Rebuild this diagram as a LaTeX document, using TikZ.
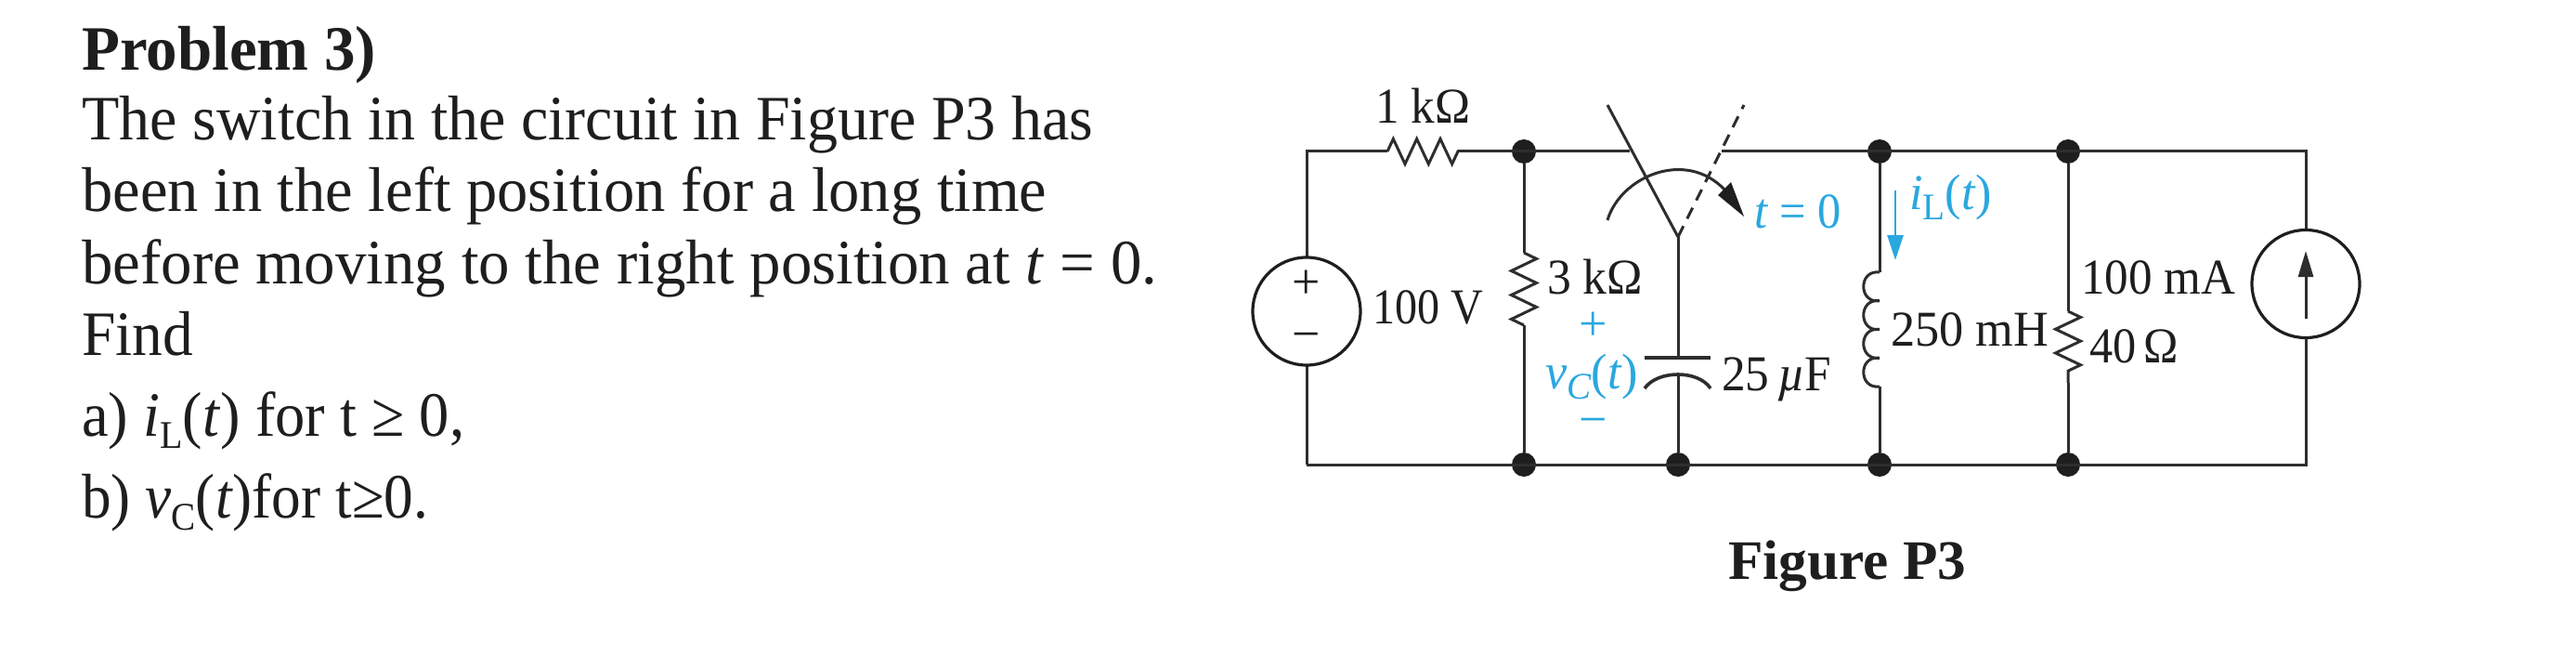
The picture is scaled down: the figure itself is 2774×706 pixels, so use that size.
\documentclass[tikz,border=0pt]{standalone}
\usepackage{fontspec}
\usepackage{graphicx}
\setmainfont{Liberation Serif}
\usetikzlibrary{arrows.meta,decorations.pathmorphing}
\newcommand{\fitw}[2]{\resizebox{#1pt}{\height}{#2}}
\newcommand{\lowidx}[1]{\raisebox{-0.2em}{\scalebox{0.62}{#1}}}
\newcommand{\lowbig}[1]{\raisebox{-0.22em}{\scalebox{0.75}{#1}}}
\definecolor{ink}{HTML}{1E1E1E}
\definecolor{wire}{HTML}{2E2E2E}
\definecolor{cyanlabel}{HTML}{2AA7DF}
\tikzset{
  body/.style={anchor=base west,inner sep=0pt,text=ink,font=\fontsize{68}{80}\selectfont},
  lab/.style={anchor=base west,inner sep=0pt,text=ink,font=\fontsize{54}{64}\selectfont},
  blab/.style={lab,text=cyanlabel},
  wireline/.style={draw=wire,line width=3pt,line join=miter},
  res/.style={wireline,decorate,decoration={zigzag,amplitude=13.5pt,segment length=#1}},
  dot/.style={circle,fill=ink,draw=none,inner sep=0pt,minimum size=26pt},
  src/.style={circle,draw=ink,line width=3.2pt,fill=white,inner sep=0pt,minimum size=116pt},
  headfill/.style={fill=ink,draw=none}
}
\begin{document}
\begin{tikzpicture}[x=1pt,y=-1pt]
\useasboundingbox[fill=white] (0,0) rectangle (2774,706);

% ---------- text block
\node[body,font=\fontsize{68}{80}\selectfont\bfseries] (title) at (88,76) {\fitw{317}{Problem 3)}};
\node[body] (l1) at (88,151) {\fitw{1089}{The switch in the circuit in Figure P3 has}};
\node[body] (l2) at (88,227) {\fitw{1039}{been in the left position for a long time}};
\node[body] (l3) at (88,305) {\fitw{1158}{before moving to the right position at \textit{t} = 0.}};
\node[body] (l4) at (88,382) {\fitw{120}{Find}};
\node[body] (l5) at (88,469) {\fitw{412}{a) \textit{i}\lowidx{L}(\textit{t}) for t ≥ 0,}};
\node[body] (l6) at (88,557) {\fitw{373}{b) \textit{v}\lowidx{C}(\textit{t})for t≥0.}};

% ---------- circuit geometry
\coordinate (tl) at (1407,163);
\coordinate (bl) at (1407,500);
\coordinate (tr) at (2483,163);
\coordinate (br) at (2483,500);
\coordinate (r1a) at (1494,163);
\coordinate (r1b) at (1570,163);
\coordinate (swl) at (1755,163);
\coordinate (swr) at (1854,163);
\coordinate (piv) at (1807,255);
\coordinate (bladeend) at (1731,113);
\coordinate (dashend) at (1878,113);
\coordinate (capt) at (1807,385);
\coordinate (capb) at (1807,404);
\coordinate (captl) at (1771,385);
\coordinate (captr) at (1842,385);
\coordinate (capbl) at (1771,418);
\coordinate (capbr) at (1842,418);
\coordinate (r3a) at (1641,272);
\coordinate (r3b) at (1641,350);
\coordinate (la) at (2024,293);
\coordinate (lb) at (2024,416);
\coordinate (r4a) at (2227,335);
\coordinate (r4b) at (2227,412);

\node[dot] (n1) at (1641,163) {};
\node[dot] (n2) at (2024,163) {};
\node[dot] (n3) at (2227,163) {};
\node[dot] (n4) at (1641,500) {};
\node[dot] (n5) at (1807,500) {};
\node[dot] (n6) at (2024,500) {};
\node[dot] (n7) at (2227,500) {};

% wires
\draw[wireline] (bl) -- (tl) -- (r1a);
\draw[wireline] (r1b) -- (n1.center) -- (swl);
\draw[wireline] (swr) -- (n2.center) -- (n3.center) -- (tr) -- (br) -- (n7.center) -- (n6.center) -- (n5.center) -- (n4.center) -- (bl);
\draw[wireline] (n1) -- (r3a);
\draw[wireline] (r3b) -- (n4);
\draw[wireline] (piv) -- (capt);
\draw[wireline] (capb) -- (n5);
\draw[wireline] (n2) -- (la);
\draw[wireline] (lb) -- (n6);
\draw[wireline] (n3) -- (r4a);
\draw[wireline] (r4b) -- (n7);

% resistors
\draw[res=25.33pt] (r1a) -- (r1b);
\draw[res=26pt] (r3a) -- (r3b);
\draw[res=25.67pt] (r4a) -- (r4b);

% inductor
\draw[wireline] (la) .. controls +(-23,-3) and +(-23,3) .. ++(0,30.75)
  .. controls +(-23,-3) and +(-23,3) .. ++(0,30.75)
  .. controls +(-23,-3) and +(-23,3) .. ++(0,30.75)
  .. controls +(-23,-3) and +(-23,3) .. (lb);

% capacitor
\draw[wireline,line width=4pt] (captl) -- (captr);
\draw[wireline,line width=3.6pt] (capbl) .. controls (1785,398) and (1829,398) .. (capbr);

% switch
\draw[wireline] (piv) -- (bladeend);
\draw[wireline,dash pattern=on 13pt off 9pt] (piv) -- (dashend);
\coordinate (arcs) at (1731,237);
\coordinate (arce) at (1857,204);
\draw[wireline] (arcs) .. controls (1745,190) and (1815,160) .. (arce);
\coordinate (tipa) at (1878,233);
\coordinate (tipb) at (1864,196);
\coordinate (tipc) at (1850,210);
\fill[headfill] (tipa) -- (tipb) -- (tipc) -- cycle;

% sources
\node[src] (vs) at (1407,335) {};
\node[src] (is) at (2483,305.5) {};
\node[lab,anchor=center] (vplus) at (1407,306) {+};
\node[lab,anchor=center] (vminus) at (1407,368) {−};
\coordinate (ia) at (2483,343);
\coordinate (ib) at (2483,270);
\draw[wireline,-{Triangle[length=28pt,width=16pt]}] (ia) -- (ib);

% current arrow iL
\coordinate (ala) at (2041,205);
\coordinate (alb) at (2041,280);
\draw[draw=cyanlabel,line width=2.8pt,-{Triangle[length=27pt,width=17pt]}] (ala) -- (alb);

% labels
\node[lab] (t1k) at (1481,133) {\fitw{102}{1 kΩ}};
\node[lab] (t100v) at (1478,348) {\fitw{119}{100 V}};
\node[lab] (t3k) at (1666,316) {\fitw{103}{3 kΩ}};
\node[lab] (t25) at (1854,420) {\fitw{118}{25\,\textit{µ}F}};
\node[lab] (t250) at (2036,372) {\fitw{170}{250 mH}};
\node[lab] (t100m) at (2241,316) {\fitw{166}{100 mA}};
\node[lab] (t40) at (2250,390) {\fitw{96}{40\,Ω}};
\node[blab] (tt0) at (1889,245) {\fitw{94}{\textit{t} = 0}};
\node[blab] (til) at (2056,225) {\fitw{89}{\textit{i}\lowbig{L}(\textit{t})}};
\node[blab] (tvc) at (1664,418) {\fitw{100}{\textit{v}\lowbig{\textit{C}}(\textit{t})}};
\node[blab,anchor=center] (tvp) at (1716,351) {+};
\node[blab,anchor=center] (tvm) at (1716,460) {−};
\node[lab,font=\fontsize{60}{68}\selectfont\bfseries] (fig) at (1861,623) {\fitw{256}{Figure P3}};
\end{tikzpicture}
\end{document}
